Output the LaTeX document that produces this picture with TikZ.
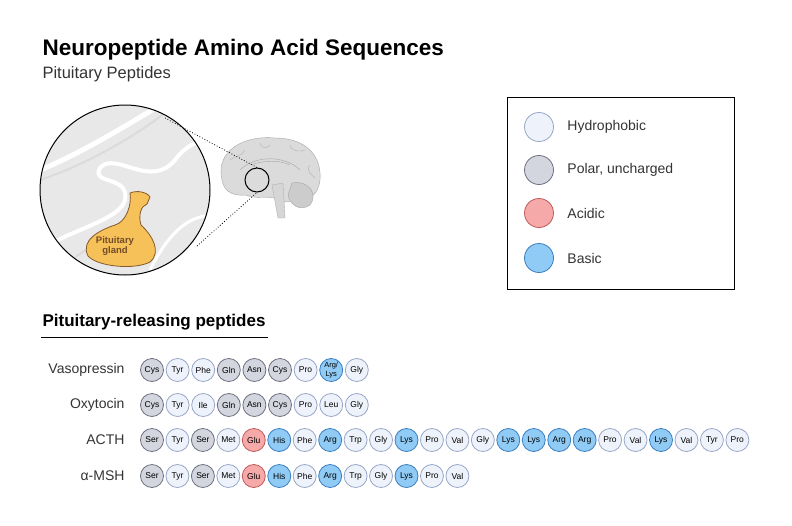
\documentclass[tikz,border=0pt]{standalone}
\usepackage{fontspec}
\setmainfont{Liberation Sans}
\begin{document}
\begin{tikzpicture}[x=1pt,y=-1pt,
  aa/.style={circle,draw,line width=0.8pt,minimum size=23pt,inner sep=0pt,font=\fontsize{8.5}{8.5}\selectfont},
  hyd/.style={aa,fill=hydf,draw=hydd},
  pol/.style={aa,fill=polf,draw=pold},
  aci/.style={aa,fill=acif,draw=acid},
  bas/.style={aa,fill=basf,draw=basd},
  lab/.style={anchor=east,font=\fontsize{14}{14}\selectfont,text=black!80}]
\definecolor{hydf}{HTML}{EEF3FB}\definecolor{hydd}{HTML}{98A6C6}
\definecolor{polf}{HTML}{D3D5DF}\definecolor{pold}{HTML}{6E7080}
\definecolor{acif}{HTML}{F5A9A8}\definecolor{acid}{HTML}{C05A5A}
\definecolor{basf}{HTML}{8FCBF5}\definecolor{basd}{HTML}{3A7DBE}
\definecolor{gland}{HTML}{F7C15A}
\useasboundingbox (0,0) rectangle (792,525);
% titles
\node[anchor=west,font=\bfseries\fontsize{22.5}{22}\selectfont] (t) at (39,50) {Neuropeptide Amino Acid Sequences};
\node[anchor=west,font=\fontsize{16.5}{16}\selectfont,text=black!80] (st) at (39,74) {Pituitary Peptides};
% zoom circle
\begin{scope}
\clip (125,190) circle (85);
\fill[black!9] (40,100) rectangle (215,280);
\draw[white,line width=5pt] (40,170) .. controls (90,150) and (150,110) .. (170,100);
\draw[black!14,line width=2pt] (40,180) .. controls (100,160) and (160,120) .. (180,100);
\draw[white,line width=4pt] (40,250) .. controls (70,230) and (120,220) .. (125,200) .. controls (130,175) and (90,185) .. (100,168) .. controls (115,150) and (150,190) .. (175,160) .. controls (190,140) and (205,140) .. (215,140);
\draw[black!14,line width=2pt] (60,270) .. controls (90,240) and (130,235) .. (135,205);
\draw[white,line width=3pt] (150,270) .. controls (170,230) and (190,215) .. (215,215);
\draw[black!14,line width=1.5pt] (185,280) .. controls (195,260) and (205,250) .. (215,250);
\end{scope}
\draw[line width=1pt] (125,190) circle (85);
% brain
\begin{scope}
\fill[black!14,draw=black!35] (222,180) .. controls (215,150) and (245,135) .. (275,138) .. controls (305,138) and (322,155) .. (320,180) .. controls (318,195) and (310,200) .. (300,198) .. controls (290,200) and (285,205) .. (282,200) .. controls (270,195) and (260,200) .. (245,195) .. controls (230,196) and (224,190) .. (222,180) -- cycle;
\fill[black!20,draw=black!35] (292,183) .. controls (310,180) and (318,195) .. (310,205) .. controls (300,212) and (290,205) .. (288,195) -- cycle;
\fill[black!16,draw=black!30] (272,185) -- (283,183) -- (285,218) -- (278,218) -- cycle;
\draw[black!35] (240,170) .. controls (255,155) and (285,155) .. (300,170);
\draw[black!35] (250,165) .. controls (265,160) and (280,160) .. (290,165);
\draw[black!30] (230,160) .. controls (235,155) and (240,158) .. (245,150);
\draw[black!30] (260,143) .. controls (262,150) and (268,148) .. (270,145);
\draw[black!30] (290,145) .. controls (292,152) and (300,152) .. (305,150);
\draw[black!30] (310,165) .. controls (305,170) and (312,175) .. (315,178);
\end{scope}
\node[circle,draw,line width=1pt,minimum size=24pt,inner sep=0pt] (zc) at (257,180) {};
\coordinate (bt) at (165,118);
\coordinate (bb) at (197,246);
\draw[dotted,line width=0.8pt] (bt) -- (zc.north);
\draw[dotted,line width=0.8pt] (bb) -- (zc.south);
% gland
\fill[gland,draw=brown!70!black,line width=0.8pt] (130,193) .. controls (137,190) and (147,192) .. (150,197) -- (147,204) .. controls (141,206) and (138,215) .. (141,225) .. controls (152,235) and (162,252) .. (150,262) .. controls (135,270) and (98,267) .. (88,256) .. controls (80,240) and (100,230) .. (115,225) .. controls (126,222) and (132,205) .. (130,193) -- cycle;
\node[font=\bfseries\fontsize{9.5}{10.5}\selectfont,text=brown!60!black,align=center] (gl) at (115,246) {Pituitary\\gland};
% legend
\draw[line width=0.8pt] (507,97) rectangle (734,289);
\node[hyd,minimum size=29pt] (l1) at (539,127) {};
\node[pol,minimum size=29pt] (l2) at (539,170) {};
\node[aci,minimum size=29pt] (l3) at (539,213) {};
\node[bas,minimum size=29pt] (l4) at (539,258) {};
\foreach \n/\t in {l1/Hydrophobic,l2/{Polar, uncharged},l3/Acidic,l4/Basic}
  \node[anchor=west,font=\fontsize{14}{14}\selectfont,text=black!80] at ([xshift=10pt]\n.east) {\t};
% section
\node[anchor=west,font=\bfseries\fontsize{17}{17}\selectfont] (sec) at (39,322) {Pituitary-releasing peptides};
\draw[line width=1pt] (41,337) -- (268,337);
% rows
\node[lab] (r1) at (128,370) {Vasopressin};
\node[lab] (r2) at (128,405) {Oxytocin};
\node[lab] (r3) at (128,440) {ACTH};
\node[lab] (r4) at (128,476) {α-MSH};
\foreach \s/\t [count=\i from 0] in {pol/Cys,hyd/Tyr,hyd/Phe,pol/Gln,pol/Asn,pol/Cys,hyd/Pro,bas/{\fontsize{7.5}{6.5}\selectfont\shortstack{Arg/\\Lys}},hyd/Gly}
  \node[\s] (v\i) at (152+25.6*\i,370) {\t};
\foreach \s/\t [count=\i from 0] in {pol/Cys,hyd/Tyr,hyd/Ile,pol/Gln,pol/Asn,pol/Cys,hyd/Pro,hyd/Leu,hyd/Gly}
  \node[\s] (o\i) at (152+25.6*\i,405) {\t};
\foreach \s/\t [count=\i from 0] in {pol/Ser,hyd/Tyr,pol/Ser,hyd/Met,aci/Glu,bas/His,hyd/Phe,bas/Arg,hyd/Trp,hyd/Gly,bas/Lys,hyd/Pro,hyd/Val,hyd/Gly,bas/Lys,bas/Lys,bas/Arg,bas/Arg,hyd/Pro,hyd/Val,bas/Lys,hyd/Val,hyd/Tyr,hyd/Pro}
  \node[\s] (a\i) at (152+25.45*\i,440) {\t};
\foreach \s/\t [count=\i from 0] in {pol/Ser,hyd/Tyr,pol/Ser,hyd/Met,aci/Glu,bas/His,hyd/Phe,bas/Arg,hyd/Trp,hyd/Gly,bas/Lys,hyd/Pro,hyd/Val}
  \node[\s] (m\i) at (152+25.45*\i,476) {\t};
\end{tikzpicture}
\end{document}
